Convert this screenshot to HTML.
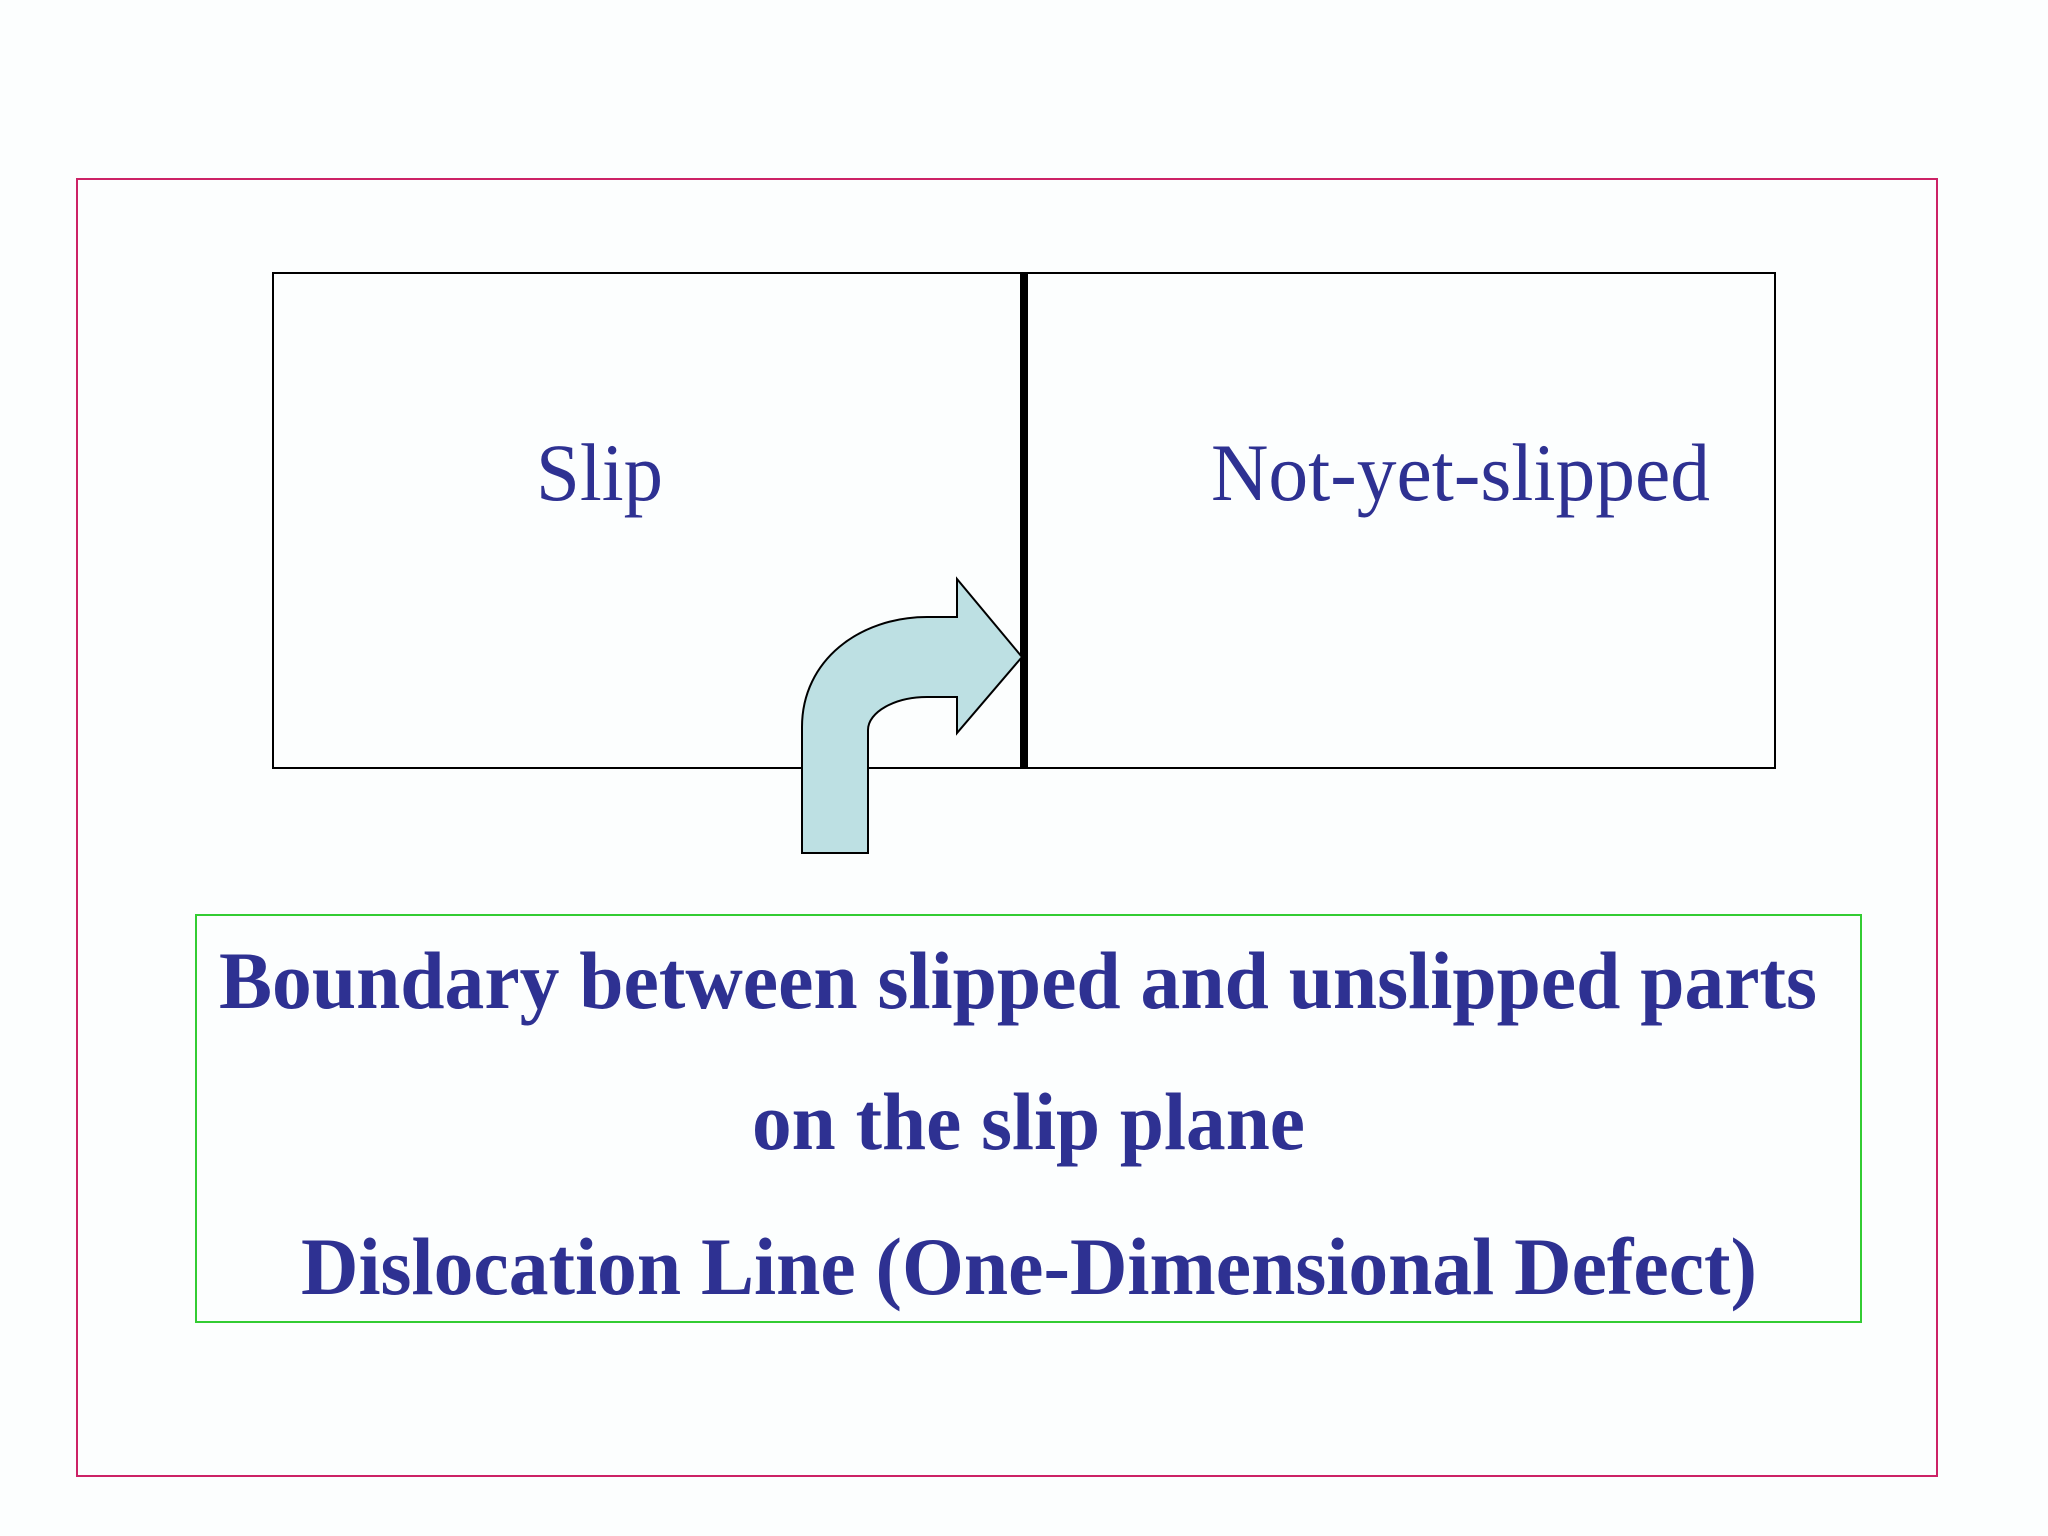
<!DOCTYPE html>
<html><head><style>html,body{margin:0;padding:0;background:#fcfefe;}svg{display:block}</style></head>
<body>
<svg width="2048" height="1536" viewBox="0 0 2048 1536" xmlns="http://www.w3.org/2000/svg">
<rect x="0" y="0" width="2048" height="1536" fill="#fcfefe"/>
<rect x="77" y="179" width="1860" height="1297" fill="none" stroke="#cc2266" stroke-width="2"/>
<rect x="273" y="273" width="1502" height="495" fill="none" stroke="#000" stroke-width="2"/>
<line x1="1024" y1="273" x2="1024" y2="768" stroke="#000" stroke-width="8"/>
<path d="M802,853 L802,727 C802,660 860,617 927,617 L957,617 L957,579 L1022,657 L957,733 L957,697 L927,697 C895,697 868,712 868,730 L868,853 Z" fill="#bde0e3" stroke="#000" stroke-width="2"/>
<g font-family="Liberation Serif, serif" fill="#2e3192">
<text x="536" y="500" font-size="82" textLength="127" lengthAdjust="spacingAndGlyphs">Slip</text>
<text x="1211" y="500" font-size="82" textLength="499" lengthAdjust="spacingAndGlyphs">Not-yet-slipped</text>
</g>
<rect x="196" y="915" width="1665" height="407" fill="none" stroke="#33cc33" stroke-width="2"/>
<g font-family="Liberation Serif, serif" font-weight="bold" fill="#2e3192" font-size="82">
<text x="219" y="1008" textLength="1598" lengthAdjust="spacingAndGlyphs">Boundary between slipped and unslipped parts</text>
<text x="752" y="1149" textLength="553" lengthAdjust="spacingAndGlyphs">on the slip plane</text>
<text x="301" y="1294" textLength="1456" lengthAdjust="spacingAndGlyphs">Dislocation Line (One-Dimensional Defect)</text>
</g>
</svg>
</body></html>
